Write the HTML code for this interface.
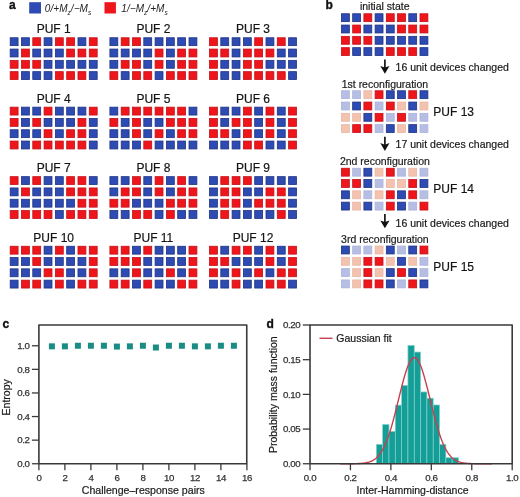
<!DOCTYPE html>
<html><head><meta charset="utf-8"><style>
html,body{margin:0;padding:0;background:#fff;}
svg{display:block;filter:blur(0.3px);}
text{font-family:"Liberation Sans",Arial,sans-serif;fill:#222;}
.puf{font-size:12px;fill:#151515;stroke:#151515;stroke-width:0.2px;}
.sm{font-size:10.5px;fill:#1a1a1a;stroke:#1a1a1a;stroke-width:0.2px;}
.tk{font-size:9.7px;letter-spacing:-0.4px;fill:#333;stroke:#333;stroke-width:0.25px;}
.lab{font-size:12px;font-weight:bold;fill:#111;stroke:#111;stroke-width:0.35px;}
.leg{font-size:10px;font-style:italic;letter-spacing:0.05px;}
.leg .sub{font-size:6.5px;}
</style></head><body>
<svg width="520" height="497" viewBox="0 0 520 497">
<rect width="520" height="497" fill="#fff"/>
<rect x="10.18" y="37.75" width="7.90" height="7.90" fill="#2d4bb2" stroke="#1f3282" stroke-width="0.8"/>
<rect x="21.48" y="37.75" width="7.90" height="7.90" fill="#2d4bb2" stroke="#1f3282" stroke-width="0.8"/>
<rect x="32.78" y="37.75" width="7.90" height="7.90" fill="#ee161b" stroke="#c4101a" stroke-width="0.8"/>
<rect x="44.08" y="37.75" width="7.90" height="7.90" fill="#2d4bb2" stroke="#1f3282" stroke-width="0.8"/>
<rect x="55.38" y="37.75" width="7.90" height="7.90" fill="#ee161b" stroke="#c4101a" stroke-width="0.8"/>
<rect x="66.68" y="37.75" width="7.90" height="7.90" fill="#ee161b" stroke="#c4101a" stroke-width="0.8"/>
<rect x="77.98" y="37.75" width="7.90" height="7.90" fill="#2d4bb2" stroke="#1f3282" stroke-width="0.8"/>
<rect x="89.28" y="37.75" width="7.90" height="7.90" fill="#ee161b" stroke="#c4101a" stroke-width="0.8"/>
<rect x="10.18" y="49.05" width="7.90" height="7.90" fill="#2d4bb2" stroke="#1f3282" stroke-width="0.8"/>
<rect x="21.48" y="49.05" width="7.90" height="7.90" fill="#ee161b" stroke="#c4101a" stroke-width="0.8"/>
<rect x="32.78" y="49.05" width="7.90" height="7.90" fill="#2d4bb2" stroke="#1f3282" stroke-width="0.8"/>
<rect x="44.08" y="49.05" width="7.90" height="7.90" fill="#2d4bb2" stroke="#1f3282" stroke-width="0.8"/>
<rect x="55.38" y="49.05" width="7.90" height="7.90" fill="#2d4bb2" stroke="#1f3282" stroke-width="0.8"/>
<rect x="66.68" y="49.05" width="7.90" height="7.90" fill="#ee161b" stroke="#c4101a" stroke-width="0.8"/>
<rect x="77.98" y="49.05" width="7.90" height="7.90" fill="#ee161b" stroke="#c4101a" stroke-width="0.8"/>
<rect x="89.28" y="49.05" width="7.90" height="7.90" fill="#ee161b" stroke="#c4101a" stroke-width="0.8"/>
<rect x="10.18" y="60.35" width="7.90" height="7.90" fill="#ee161b" stroke="#c4101a" stroke-width="0.8"/>
<rect x="21.48" y="60.35" width="7.90" height="7.90" fill="#ee161b" stroke="#c4101a" stroke-width="0.8"/>
<rect x="32.78" y="60.35" width="7.90" height="7.90" fill="#ee161b" stroke="#c4101a" stroke-width="0.8"/>
<rect x="44.08" y="60.35" width="7.90" height="7.90" fill="#2d4bb2" stroke="#1f3282" stroke-width="0.8"/>
<rect x="55.38" y="60.35" width="7.90" height="7.90" fill="#2d4bb2" stroke="#1f3282" stroke-width="0.8"/>
<rect x="66.68" y="60.35" width="7.90" height="7.90" fill="#2d4bb2" stroke="#1f3282" stroke-width="0.8"/>
<rect x="77.98" y="60.35" width="7.90" height="7.90" fill="#2d4bb2" stroke="#1f3282" stroke-width="0.8"/>
<rect x="89.28" y="60.35" width="7.90" height="7.90" fill="#2d4bb2" stroke="#1f3282" stroke-width="0.8"/>
<rect x="10.18" y="71.65" width="7.90" height="7.90" fill="#ee161b" stroke="#c4101a" stroke-width="0.8"/>
<rect x="21.48" y="71.65" width="7.90" height="7.90" fill="#2d4bb2" stroke="#1f3282" stroke-width="0.8"/>
<rect x="32.78" y="71.65" width="7.90" height="7.90" fill="#2d4bb2" stroke="#1f3282" stroke-width="0.8"/>
<rect x="44.08" y="71.65" width="7.90" height="7.90" fill="#2d4bb2" stroke="#1f3282" stroke-width="0.8"/>
<rect x="55.38" y="71.65" width="7.90" height="7.90" fill="#ee161b" stroke="#c4101a" stroke-width="0.8"/>
<rect x="66.68" y="71.65" width="7.90" height="7.90" fill="#ee161b" stroke="#c4101a" stroke-width="0.8"/>
<rect x="77.98" y="71.65" width="7.90" height="7.90" fill="#ee161b" stroke="#c4101a" stroke-width="0.8"/>
<rect x="89.28" y="71.65" width="7.90" height="7.90" fill="#2d4bb2" stroke="#1f3282" stroke-width="0.8"/>
<text x="53.68" y="33.10" class="puf" text-anchor="middle">PUF 1</text>
<rect x="109.90" y="37.75" width="7.90" height="7.90" fill="#2d4bb2" stroke="#1f3282" stroke-width="0.8"/>
<rect x="121.20" y="37.75" width="7.90" height="7.90" fill="#ee161b" stroke="#c4101a" stroke-width="0.8"/>
<rect x="132.50" y="37.75" width="7.90" height="7.90" fill="#ee161b" stroke="#c4101a" stroke-width="0.8"/>
<rect x="143.80" y="37.75" width="7.90" height="7.90" fill="#2d4bb2" stroke="#1f3282" stroke-width="0.8"/>
<rect x="155.10" y="37.75" width="7.90" height="7.90" fill="#2d4bb2" stroke="#1f3282" stroke-width="0.8"/>
<rect x="166.40" y="37.75" width="7.90" height="7.90" fill="#2d4bb2" stroke="#1f3282" stroke-width="0.8"/>
<rect x="177.70" y="37.75" width="7.90" height="7.90" fill="#2d4bb2" stroke="#1f3282" stroke-width="0.8"/>
<rect x="189.00" y="37.75" width="7.90" height="7.90" fill="#2d4bb2" stroke="#1f3282" stroke-width="0.8"/>
<rect x="109.90" y="49.05" width="7.90" height="7.90" fill="#2d4bb2" stroke="#1f3282" stroke-width="0.8"/>
<rect x="121.20" y="49.05" width="7.90" height="7.90" fill="#2d4bb2" stroke="#1f3282" stroke-width="0.8"/>
<rect x="132.50" y="49.05" width="7.90" height="7.90" fill="#2d4bb2" stroke="#1f3282" stroke-width="0.8"/>
<rect x="143.80" y="49.05" width="7.90" height="7.90" fill="#2d4bb2" stroke="#1f3282" stroke-width="0.8"/>
<rect x="155.10" y="49.05" width="7.90" height="7.90" fill="#ee161b" stroke="#c4101a" stroke-width="0.8"/>
<rect x="166.40" y="49.05" width="7.90" height="7.90" fill="#2d4bb2" stroke="#1f3282" stroke-width="0.8"/>
<rect x="177.70" y="49.05" width="7.90" height="7.90" fill="#ee161b" stroke="#c4101a" stroke-width="0.8"/>
<rect x="189.00" y="49.05" width="7.90" height="7.90" fill="#ee161b" stroke="#c4101a" stroke-width="0.8"/>
<rect x="109.90" y="60.35" width="7.90" height="7.90" fill="#2d4bb2" stroke="#1f3282" stroke-width="0.8"/>
<rect x="121.20" y="60.35" width="7.90" height="7.90" fill="#ee161b" stroke="#c4101a" stroke-width="0.8"/>
<rect x="132.50" y="60.35" width="7.90" height="7.90" fill="#ee161b" stroke="#c4101a" stroke-width="0.8"/>
<rect x="143.80" y="60.35" width="7.90" height="7.90" fill="#2d4bb2" stroke="#1f3282" stroke-width="0.8"/>
<rect x="155.10" y="60.35" width="7.90" height="7.90" fill="#ee161b" stroke="#c4101a" stroke-width="0.8"/>
<rect x="166.40" y="60.35" width="7.90" height="7.90" fill="#2d4bb2" stroke="#1f3282" stroke-width="0.8"/>
<rect x="177.70" y="60.35" width="7.90" height="7.90" fill="#ee161b" stroke="#c4101a" stroke-width="0.8"/>
<rect x="189.00" y="60.35" width="7.90" height="7.90" fill="#ee161b" stroke="#c4101a" stroke-width="0.8"/>
<rect x="109.90" y="71.65" width="7.90" height="7.90" fill="#ee161b" stroke="#c4101a" stroke-width="0.8"/>
<rect x="121.20" y="71.65" width="7.90" height="7.90" fill="#2d4bb2" stroke="#1f3282" stroke-width="0.8"/>
<rect x="132.50" y="71.65" width="7.90" height="7.90" fill="#ee161b" stroke="#c4101a" stroke-width="0.8"/>
<rect x="143.80" y="71.65" width="7.90" height="7.90" fill="#ee161b" stroke="#c4101a" stroke-width="0.8"/>
<rect x="155.10" y="71.65" width="7.90" height="7.90" fill="#2d4bb2" stroke="#1f3282" stroke-width="0.8"/>
<rect x="166.40" y="71.65" width="7.90" height="7.90" fill="#ee161b" stroke="#c4101a" stroke-width="0.8"/>
<rect x="177.70" y="71.65" width="7.90" height="7.90" fill="#ee161b" stroke="#c4101a" stroke-width="0.8"/>
<rect x="189.00" y="71.65" width="7.90" height="7.90" fill="#ee161b" stroke="#c4101a" stroke-width="0.8"/>
<text x="153.40" y="33.10" class="puf" text-anchor="middle">PUF 2</text>
<rect x="209.50" y="37.75" width="7.90" height="7.90" fill="#ee161b" stroke="#c4101a" stroke-width="0.8"/>
<rect x="220.80" y="37.75" width="7.90" height="7.90" fill="#2d4bb2" stroke="#1f3282" stroke-width="0.8"/>
<rect x="232.10" y="37.75" width="7.90" height="7.90" fill="#2d4bb2" stroke="#1f3282" stroke-width="0.8"/>
<rect x="243.40" y="37.75" width="7.90" height="7.90" fill="#2d4bb2" stroke="#1f3282" stroke-width="0.8"/>
<rect x="254.70" y="37.75" width="7.90" height="7.90" fill="#ee161b" stroke="#c4101a" stroke-width="0.8"/>
<rect x="266.00" y="37.75" width="7.90" height="7.90" fill="#2d4bb2" stroke="#1f3282" stroke-width="0.8"/>
<rect x="277.30" y="37.75" width="7.90" height="7.90" fill="#ee161b" stroke="#c4101a" stroke-width="0.8"/>
<rect x="288.60" y="37.75" width="7.90" height="7.90" fill="#2d4bb2" stroke="#1f3282" stroke-width="0.8"/>
<rect x="209.50" y="49.05" width="7.90" height="7.90" fill="#ee161b" stroke="#c4101a" stroke-width="0.8"/>
<rect x="220.80" y="49.05" width="7.90" height="7.90" fill="#ee161b" stroke="#c4101a" stroke-width="0.8"/>
<rect x="232.10" y="49.05" width="7.90" height="7.90" fill="#2d4bb2" stroke="#1f3282" stroke-width="0.8"/>
<rect x="243.40" y="49.05" width="7.90" height="7.90" fill="#ee161b" stroke="#c4101a" stroke-width="0.8"/>
<rect x="254.70" y="49.05" width="7.90" height="7.90" fill="#ee161b" stroke="#c4101a" stroke-width="0.8"/>
<rect x="266.00" y="49.05" width="7.90" height="7.90" fill="#ee161b" stroke="#c4101a" stroke-width="0.8"/>
<rect x="277.30" y="49.05" width="7.90" height="7.90" fill="#2d4bb2" stroke="#1f3282" stroke-width="0.8"/>
<rect x="288.60" y="49.05" width="7.90" height="7.90" fill="#2d4bb2" stroke="#1f3282" stroke-width="0.8"/>
<rect x="209.50" y="60.35" width="7.90" height="7.90" fill="#ee161b" stroke="#c4101a" stroke-width="0.8"/>
<rect x="220.80" y="60.35" width="7.90" height="7.90" fill="#2d4bb2" stroke="#1f3282" stroke-width="0.8"/>
<rect x="232.10" y="60.35" width="7.90" height="7.90" fill="#2d4bb2" stroke="#1f3282" stroke-width="0.8"/>
<rect x="243.40" y="60.35" width="7.90" height="7.90" fill="#ee161b" stroke="#c4101a" stroke-width="0.8"/>
<rect x="254.70" y="60.35" width="7.90" height="7.90" fill="#ee161b" stroke="#c4101a" stroke-width="0.8"/>
<rect x="266.00" y="60.35" width="7.90" height="7.90" fill="#2d4bb2" stroke="#1f3282" stroke-width="0.8"/>
<rect x="277.30" y="60.35" width="7.90" height="7.90" fill="#2d4bb2" stroke="#1f3282" stroke-width="0.8"/>
<rect x="288.60" y="60.35" width="7.90" height="7.90" fill="#2d4bb2" stroke="#1f3282" stroke-width="0.8"/>
<rect x="209.50" y="71.65" width="7.90" height="7.90" fill="#ee161b" stroke="#c4101a" stroke-width="0.8"/>
<rect x="220.80" y="71.65" width="7.90" height="7.90" fill="#2d4bb2" stroke="#1f3282" stroke-width="0.8"/>
<rect x="232.10" y="71.65" width="7.90" height="7.90" fill="#2d4bb2" stroke="#1f3282" stroke-width="0.8"/>
<rect x="243.40" y="71.65" width="7.90" height="7.90" fill="#ee161b" stroke="#c4101a" stroke-width="0.8"/>
<rect x="254.70" y="71.65" width="7.90" height="7.90" fill="#ee161b" stroke="#c4101a" stroke-width="0.8"/>
<rect x="266.00" y="71.65" width="7.90" height="7.90" fill="#ee161b" stroke="#c4101a" stroke-width="0.8"/>
<rect x="277.30" y="71.65" width="7.90" height="7.90" fill="#ee161b" stroke="#c4101a" stroke-width="0.8"/>
<rect x="288.60" y="71.65" width="7.90" height="7.90" fill="#2d4bb2" stroke="#1f3282" stroke-width="0.8"/>
<text x="253.00" y="33.10" class="puf" text-anchor="middle">PUF 3</text>
<rect x="10.18" y="107.15" width="7.90" height="7.90" fill="#ee161b" stroke="#c4101a" stroke-width="0.8"/>
<rect x="21.48" y="107.15" width="7.90" height="7.90" fill="#2d4bb2" stroke="#1f3282" stroke-width="0.8"/>
<rect x="32.78" y="107.15" width="7.90" height="7.90" fill="#2d4bb2" stroke="#1f3282" stroke-width="0.8"/>
<rect x="44.08" y="107.15" width="7.90" height="7.90" fill="#ee161b" stroke="#c4101a" stroke-width="0.8"/>
<rect x="55.38" y="107.15" width="7.90" height="7.90" fill="#2d4bb2" stroke="#1f3282" stroke-width="0.8"/>
<rect x="66.68" y="107.15" width="7.90" height="7.90" fill="#2d4bb2" stroke="#1f3282" stroke-width="0.8"/>
<rect x="77.98" y="107.15" width="7.90" height="7.90" fill="#2d4bb2" stroke="#1f3282" stroke-width="0.8"/>
<rect x="89.28" y="107.15" width="7.90" height="7.90" fill="#ee161b" stroke="#c4101a" stroke-width="0.8"/>
<rect x="10.18" y="118.45" width="7.90" height="7.90" fill="#ee161b" stroke="#c4101a" stroke-width="0.8"/>
<rect x="21.48" y="118.45" width="7.90" height="7.90" fill="#2d4bb2" stroke="#1f3282" stroke-width="0.8"/>
<rect x="32.78" y="118.45" width="7.90" height="7.90" fill="#ee161b" stroke="#c4101a" stroke-width="0.8"/>
<rect x="44.08" y="118.45" width="7.90" height="7.90" fill="#2d4bb2" stroke="#1f3282" stroke-width="0.8"/>
<rect x="55.38" y="118.45" width="7.90" height="7.90" fill="#2d4bb2" stroke="#1f3282" stroke-width="0.8"/>
<rect x="66.68" y="118.45" width="7.90" height="7.90" fill="#2d4bb2" stroke="#1f3282" stroke-width="0.8"/>
<rect x="77.98" y="118.45" width="7.90" height="7.90" fill="#ee161b" stroke="#c4101a" stroke-width="0.8"/>
<rect x="89.28" y="118.45" width="7.90" height="7.90" fill="#2d4bb2" stroke="#1f3282" stroke-width="0.8"/>
<rect x="10.18" y="129.75" width="7.90" height="7.90" fill="#2d4bb2" stroke="#1f3282" stroke-width="0.8"/>
<rect x="21.48" y="129.75" width="7.90" height="7.90" fill="#2d4bb2" stroke="#1f3282" stroke-width="0.8"/>
<rect x="32.78" y="129.75" width="7.90" height="7.90" fill="#2d4bb2" stroke="#1f3282" stroke-width="0.8"/>
<rect x="44.08" y="129.75" width="7.90" height="7.90" fill="#ee161b" stroke="#c4101a" stroke-width="0.8"/>
<rect x="55.38" y="129.75" width="7.90" height="7.90" fill="#2d4bb2" stroke="#1f3282" stroke-width="0.8"/>
<rect x="66.68" y="129.75" width="7.90" height="7.90" fill="#ee161b" stroke="#c4101a" stroke-width="0.8"/>
<rect x="77.98" y="129.75" width="7.90" height="7.90" fill="#ee161b" stroke="#c4101a" stroke-width="0.8"/>
<rect x="89.28" y="129.75" width="7.90" height="7.90" fill="#2d4bb2" stroke="#1f3282" stroke-width="0.8"/>
<rect x="10.18" y="141.05" width="7.90" height="7.90" fill="#ee161b" stroke="#c4101a" stroke-width="0.8"/>
<rect x="21.48" y="141.05" width="7.90" height="7.90" fill="#2d4bb2" stroke="#1f3282" stroke-width="0.8"/>
<rect x="32.78" y="141.05" width="7.90" height="7.90" fill="#ee161b" stroke="#c4101a" stroke-width="0.8"/>
<rect x="44.08" y="141.05" width="7.90" height="7.90" fill="#ee161b" stroke="#c4101a" stroke-width="0.8"/>
<rect x="55.38" y="141.05" width="7.90" height="7.90" fill="#ee161b" stroke="#c4101a" stroke-width="0.8"/>
<rect x="66.68" y="141.05" width="7.90" height="7.90" fill="#ee161b" stroke="#c4101a" stroke-width="0.8"/>
<rect x="77.98" y="141.05" width="7.90" height="7.90" fill="#ee161b" stroke="#c4101a" stroke-width="0.8"/>
<rect x="89.28" y="141.05" width="7.90" height="7.90" fill="#2d4bb2" stroke="#1f3282" stroke-width="0.8"/>
<text x="53.68" y="102.50" class="puf" text-anchor="middle">PUF 4</text>
<rect x="109.90" y="107.15" width="7.90" height="7.90" fill="#2d4bb2" stroke="#1f3282" stroke-width="0.8"/>
<rect x="121.20" y="107.15" width="7.90" height="7.90" fill="#ee161b" stroke="#c4101a" stroke-width="0.8"/>
<rect x="132.50" y="107.15" width="7.90" height="7.90" fill="#ee161b" stroke="#c4101a" stroke-width="0.8"/>
<rect x="143.80" y="107.15" width="7.90" height="7.90" fill="#ee161b" stroke="#c4101a" stroke-width="0.8"/>
<rect x="155.10" y="107.15" width="7.90" height="7.90" fill="#ee161b" stroke="#c4101a" stroke-width="0.8"/>
<rect x="166.40" y="107.15" width="7.90" height="7.90" fill="#ee161b" stroke="#c4101a" stroke-width="0.8"/>
<rect x="177.70" y="107.15" width="7.90" height="7.90" fill="#ee161b" stroke="#c4101a" stroke-width="0.8"/>
<rect x="189.00" y="107.15" width="7.90" height="7.90" fill="#2d4bb2" stroke="#1f3282" stroke-width="0.8"/>
<rect x="109.90" y="118.45" width="7.90" height="7.90" fill="#ee161b" stroke="#c4101a" stroke-width="0.8"/>
<rect x="121.20" y="118.45" width="7.90" height="7.90" fill="#2d4bb2" stroke="#1f3282" stroke-width="0.8"/>
<rect x="132.50" y="118.45" width="7.90" height="7.90" fill="#ee161b" stroke="#c4101a" stroke-width="0.8"/>
<rect x="143.80" y="118.45" width="7.90" height="7.90" fill="#2d4bb2" stroke="#1f3282" stroke-width="0.8"/>
<rect x="155.10" y="118.45" width="7.90" height="7.90" fill="#2d4bb2" stroke="#1f3282" stroke-width="0.8"/>
<rect x="166.40" y="118.45" width="7.90" height="7.90" fill="#ee161b" stroke="#c4101a" stroke-width="0.8"/>
<rect x="177.70" y="118.45" width="7.90" height="7.90" fill="#ee161b" stroke="#c4101a" stroke-width="0.8"/>
<rect x="189.00" y="118.45" width="7.90" height="7.90" fill="#ee161b" stroke="#c4101a" stroke-width="0.8"/>
<rect x="109.90" y="129.75" width="7.90" height="7.90" fill="#2d4bb2" stroke="#1f3282" stroke-width="0.8"/>
<rect x="121.20" y="129.75" width="7.90" height="7.90" fill="#2d4bb2" stroke="#1f3282" stroke-width="0.8"/>
<rect x="132.50" y="129.75" width="7.90" height="7.90" fill="#ee161b" stroke="#c4101a" stroke-width="0.8"/>
<rect x="143.80" y="129.75" width="7.90" height="7.90" fill="#2d4bb2" stroke="#1f3282" stroke-width="0.8"/>
<rect x="155.10" y="129.75" width="7.90" height="7.90" fill="#ee161b" stroke="#c4101a" stroke-width="0.8"/>
<rect x="166.40" y="129.75" width="7.90" height="7.90" fill="#2d4bb2" stroke="#1f3282" stroke-width="0.8"/>
<rect x="177.70" y="129.75" width="7.90" height="7.90" fill="#ee161b" stroke="#c4101a" stroke-width="0.8"/>
<rect x="189.00" y="129.75" width="7.90" height="7.90" fill="#ee161b" stroke="#c4101a" stroke-width="0.8"/>
<rect x="109.90" y="141.05" width="7.90" height="7.90" fill="#2d4bb2" stroke="#1f3282" stroke-width="0.8"/>
<rect x="121.20" y="141.05" width="7.90" height="7.90" fill="#2d4bb2" stroke="#1f3282" stroke-width="0.8"/>
<rect x="132.50" y="141.05" width="7.90" height="7.90" fill="#2d4bb2" stroke="#1f3282" stroke-width="0.8"/>
<rect x="143.80" y="141.05" width="7.90" height="7.90" fill="#ee161b" stroke="#c4101a" stroke-width="0.8"/>
<rect x="155.10" y="141.05" width="7.90" height="7.90" fill="#2d4bb2" stroke="#1f3282" stroke-width="0.8"/>
<rect x="166.40" y="141.05" width="7.90" height="7.90" fill="#2d4bb2" stroke="#1f3282" stroke-width="0.8"/>
<rect x="177.70" y="141.05" width="7.90" height="7.90" fill="#2d4bb2" stroke="#1f3282" stroke-width="0.8"/>
<rect x="189.00" y="141.05" width="7.90" height="7.90" fill="#2d4bb2" stroke="#1f3282" stroke-width="0.8"/>
<text x="153.40" y="102.50" class="puf" text-anchor="middle">PUF 5</text>
<rect x="209.50" y="107.15" width="7.90" height="7.90" fill="#ee161b" stroke="#c4101a" stroke-width="0.8"/>
<rect x="220.80" y="107.15" width="7.90" height="7.90" fill="#2d4bb2" stroke="#1f3282" stroke-width="0.8"/>
<rect x="232.10" y="107.15" width="7.90" height="7.90" fill="#2d4bb2" stroke="#1f3282" stroke-width="0.8"/>
<rect x="243.40" y="107.15" width="7.90" height="7.90" fill="#ee161b" stroke="#c4101a" stroke-width="0.8"/>
<rect x="254.70" y="107.15" width="7.90" height="7.90" fill="#2d4bb2" stroke="#1f3282" stroke-width="0.8"/>
<rect x="266.00" y="107.15" width="7.90" height="7.90" fill="#ee161b" stroke="#c4101a" stroke-width="0.8"/>
<rect x="277.30" y="107.15" width="7.90" height="7.90" fill="#2d4bb2" stroke="#1f3282" stroke-width="0.8"/>
<rect x="288.60" y="107.15" width="7.90" height="7.90" fill="#ee161b" stroke="#c4101a" stroke-width="0.8"/>
<rect x="209.50" y="118.45" width="7.90" height="7.90" fill="#ee161b" stroke="#c4101a" stroke-width="0.8"/>
<rect x="220.80" y="118.45" width="7.90" height="7.90" fill="#2d4bb2" stroke="#1f3282" stroke-width="0.8"/>
<rect x="232.10" y="118.45" width="7.90" height="7.90" fill="#ee161b" stroke="#c4101a" stroke-width="0.8"/>
<rect x="243.40" y="118.45" width="7.90" height="7.90" fill="#ee161b" stroke="#c4101a" stroke-width="0.8"/>
<rect x="254.70" y="118.45" width="7.90" height="7.90" fill="#2d4bb2" stroke="#1f3282" stroke-width="0.8"/>
<rect x="266.00" y="118.45" width="7.90" height="7.90" fill="#ee161b" stroke="#c4101a" stroke-width="0.8"/>
<rect x="277.30" y="118.45" width="7.90" height="7.90" fill="#2d4bb2" stroke="#1f3282" stroke-width="0.8"/>
<rect x="288.60" y="118.45" width="7.90" height="7.90" fill="#ee161b" stroke="#c4101a" stroke-width="0.8"/>
<rect x="209.50" y="129.75" width="7.90" height="7.90" fill="#ee161b" stroke="#c4101a" stroke-width="0.8"/>
<rect x="220.80" y="129.75" width="7.90" height="7.90" fill="#ee161b" stroke="#c4101a" stroke-width="0.8"/>
<rect x="232.10" y="129.75" width="7.90" height="7.90" fill="#2d4bb2" stroke="#1f3282" stroke-width="0.8"/>
<rect x="243.40" y="129.75" width="7.90" height="7.90" fill="#ee161b" stroke="#c4101a" stroke-width="0.8"/>
<rect x="254.70" y="129.75" width="7.90" height="7.90" fill="#2d4bb2" stroke="#1f3282" stroke-width="0.8"/>
<rect x="266.00" y="129.75" width="7.90" height="7.90" fill="#ee161b" stroke="#c4101a" stroke-width="0.8"/>
<rect x="277.30" y="129.75" width="7.90" height="7.90" fill="#2d4bb2" stroke="#1f3282" stroke-width="0.8"/>
<rect x="288.60" y="129.75" width="7.90" height="7.90" fill="#ee161b" stroke="#c4101a" stroke-width="0.8"/>
<rect x="209.50" y="141.05" width="7.90" height="7.90" fill="#2d4bb2" stroke="#1f3282" stroke-width="0.8"/>
<rect x="220.80" y="141.05" width="7.90" height="7.90" fill="#2d4bb2" stroke="#1f3282" stroke-width="0.8"/>
<rect x="232.10" y="141.05" width="7.90" height="7.90" fill="#2d4bb2" stroke="#1f3282" stroke-width="0.8"/>
<rect x="243.40" y="141.05" width="7.90" height="7.90" fill="#ee161b" stroke="#c4101a" stroke-width="0.8"/>
<rect x="254.70" y="141.05" width="7.90" height="7.90" fill="#ee161b" stroke="#c4101a" stroke-width="0.8"/>
<rect x="266.00" y="141.05" width="7.90" height="7.90" fill="#2d4bb2" stroke="#1f3282" stroke-width="0.8"/>
<rect x="277.30" y="141.05" width="7.90" height="7.90" fill="#2d4bb2" stroke="#1f3282" stroke-width="0.8"/>
<rect x="288.60" y="141.05" width="7.90" height="7.90" fill="#ee161b" stroke="#c4101a" stroke-width="0.8"/>
<text x="253.00" y="102.50" class="puf" text-anchor="middle">PUF 6</text>
<rect x="10.18" y="176.65" width="7.90" height="7.90" fill="#ee161b" stroke="#c4101a" stroke-width="0.8"/>
<rect x="21.48" y="176.65" width="7.90" height="7.90" fill="#2d4bb2" stroke="#1f3282" stroke-width="0.8"/>
<rect x="32.78" y="176.65" width="7.90" height="7.90" fill="#ee161b" stroke="#c4101a" stroke-width="0.8"/>
<rect x="44.08" y="176.65" width="7.90" height="7.90" fill="#2d4bb2" stroke="#1f3282" stroke-width="0.8"/>
<rect x="55.38" y="176.65" width="7.90" height="7.90" fill="#2d4bb2" stroke="#1f3282" stroke-width="0.8"/>
<rect x="66.68" y="176.65" width="7.90" height="7.90" fill="#ee161b" stroke="#c4101a" stroke-width="0.8"/>
<rect x="77.98" y="176.65" width="7.90" height="7.90" fill="#ee161b" stroke="#c4101a" stroke-width="0.8"/>
<rect x="89.28" y="176.65" width="7.90" height="7.90" fill="#2d4bb2" stroke="#1f3282" stroke-width="0.8"/>
<rect x="10.18" y="187.95" width="7.90" height="7.90" fill="#2d4bb2" stroke="#1f3282" stroke-width="0.8"/>
<rect x="21.48" y="187.95" width="7.90" height="7.90" fill="#ee161b" stroke="#c4101a" stroke-width="0.8"/>
<rect x="32.78" y="187.95" width="7.90" height="7.90" fill="#2d4bb2" stroke="#1f3282" stroke-width="0.8"/>
<rect x="44.08" y="187.95" width="7.90" height="7.90" fill="#2d4bb2" stroke="#1f3282" stroke-width="0.8"/>
<rect x="55.38" y="187.95" width="7.90" height="7.90" fill="#2d4bb2" stroke="#1f3282" stroke-width="0.8"/>
<rect x="66.68" y="187.95" width="7.90" height="7.90" fill="#ee161b" stroke="#c4101a" stroke-width="0.8"/>
<rect x="77.98" y="187.95" width="7.90" height="7.90" fill="#ee161b" stroke="#c4101a" stroke-width="0.8"/>
<rect x="89.28" y="187.95" width="7.90" height="7.90" fill="#ee161b" stroke="#c4101a" stroke-width="0.8"/>
<rect x="10.18" y="199.25" width="7.90" height="7.90" fill="#2d4bb2" stroke="#1f3282" stroke-width="0.8"/>
<rect x="21.48" y="199.25" width="7.90" height="7.90" fill="#2d4bb2" stroke="#1f3282" stroke-width="0.8"/>
<rect x="32.78" y="199.25" width="7.90" height="7.90" fill="#2d4bb2" stroke="#1f3282" stroke-width="0.8"/>
<rect x="44.08" y="199.25" width="7.90" height="7.90" fill="#2d4bb2" stroke="#1f3282" stroke-width="0.8"/>
<rect x="55.38" y="199.25" width="7.90" height="7.90" fill="#2d4bb2" stroke="#1f3282" stroke-width="0.8"/>
<rect x="66.68" y="199.25" width="7.90" height="7.90" fill="#2d4bb2" stroke="#1f3282" stroke-width="0.8"/>
<rect x="77.98" y="199.25" width="7.90" height="7.90" fill="#ee161b" stroke="#c4101a" stroke-width="0.8"/>
<rect x="89.28" y="199.25" width="7.90" height="7.90" fill="#ee161b" stroke="#c4101a" stroke-width="0.8"/>
<rect x="10.18" y="210.55" width="7.90" height="7.90" fill="#ee161b" stroke="#c4101a" stroke-width="0.8"/>
<rect x="21.48" y="210.55" width="7.90" height="7.90" fill="#ee161b" stroke="#c4101a" stroke-width="0.8"/>
<rect x="32.78" y="210.55" width="7.90" height="7.90" fill="#ee161b" stroke="#c4101a" stroke-width="0.8"/>
<rect x="44.08" y="210.55" width="7.90" height="7.90" fill="#ee161b" stroke="#c4101a" stroke-width="0.8"/>
<rect x="55.38" y="210.55" width="7.90" height="7.90" fill="#2d4bb2" stroke="#1f3282" stroke-width="0.8"/>
<rect x="66.68" y="210.55" width="7.90" height="7.90" fill="#ee161b" stroke="#c4101a" stroke-width="0.8"/>
<rect x="77.98" y="210.55" width="7.90" height="7.90" fill="#ee161b" stroke="#c4101a" stroke-width="0.8"/>
<rect x="89.28" y="210.55" width="7.90" height="7.90" fill="#ee161b" stroke="#c4101a" stroke-width="0.8"/>
<text x="53.68" y="172.00" class="puf" text-anchor="middle">PUF 7</text>
<rect x="109.90" y="176.65" width="7.90" height="7.90" fill="#2d4bb2" stroke="#1f3282" stroke-width="0.8"/>
<rect x="121.20" y="176.65" width="7.90" height="7.90" fill="#2d4bb2" stroke="#1f3282" stroke-width="0.8"/>
<rect x="132.50" y="176.65" width="7.90" height="7.90" fill="#ee161b" stroke="#c4101a" stroke-width="0.8"/>
<rect x="143.80" y="176.65" width="7.90" height="7.90" fill="#2d4bb2" stroke="#1f3282" stroke-width="0.8"/>
<rect x="155.10" y="176.65" width="7.90" height="7.90" fill="#ee161b" stroke="#c4101a" stroke-width="0.8"/>
<rect x="166.40" y="176.65" width="7.90" height="7.90" fill="#2d4bb2" stroke="#1f3282" stroke-width="0.8"/>
<rect x="177.70" y="176.65" width="7.90" height="7.90" fill="#ee161b" stroke="#c4101a" stroke-width="0.8"/>
<rect x="189.00" y="176.65" width="7.90" height="7.90" fill="#2d4bb2" stroke="#1f3282" stroke-width="0.8"/>
<rect x="109.90" y="187.95" width="7.90" height="7.90" fill="#2d4bb2" stroke="#1f3282" stroke-width="0.8"/>
<rect x="121.20" y="187.95" width="7.90" height="7.90" fill="#ee161b" stroke="#c4101a" stroke-width="0.8"/>
<rect x="132.50" y="187.95" width="7.90" height="7.90" fill="#ee161b" stroke="#c4101a" stroke-width="0.8"/>
<rect x="143.80" y="187.95" width="7.90" height="7.90" fill="#2d4bb2" stroke="#1f3282" stroke-width="0.8"/>
<rect x="155.10" y="187.95" width="7.90" height="7.90" fill="#ee161b" stroke="#c4101a" stroke-width="0.8"/>
<rect x="166.40" y="187.95" width="7.90" height="7.90" fill="#2d4bb2" stroke="#1f3282" stroke-width="0.8"/>
<rect x="177.70" y="187.95" width="7.90" height="7.90" fill="#ee161b" stroke="#c4101a" stroke-width="0.8"/>
<rect x="189.00" y="187.95" width="7.90" height="7.90" fill="#ee161b" stroke="#c4101a" stroke-width="0.8"/>
<rect x="109.90" y="199.25" width="7.90" height="7.90" fill="#ee161b" stroke="#c4101a" stroke-width="0.8"/>
<rect x="121.20" y="199.25" width="7.90" height="7.90" fill="#ee161b" stroke="#c4101a" stroke-width="0.8"/>
<rect x="132.50" y="199.25" width="7.90" height="7.90" fill="#2d4bb2" stroke="#1f3282" stroke-width="0.8"/>
<rect x="143.80" y="199.25" width="7.90" height="7.90" fill="#2d4bb2" stroke="#1f3282" stroke-width="0.8"/>
<rect x="155.10" y="199.25" width="7.90" height="7.90" fill="#2d4bb2" stroke="#1f3282" stroke-width="0.8"/>
<rect x="166.40" y="199.25" width="7.90" height="7.90" fill="#ee161b" stroke="#c4101a" stroke-width="0.8"/>
<rect x="177.70" y="199.25" width="7.90" height="7.90" fill="#ee161b" stroke="#c4101a" stroke-width="0.8"/>
<rect x="189.00" y="199.25" width="7.90" height="7.90" fill="#ee161b" stroke="#c4101a" stroke-width="0.8"/>
<rect x="109.90" y="210.55" width="7.90" height="7.90" fill="#2d4bb2" stroke="#1f3282" stroke-width="0.8"/>
<rect x="121.20" y="210.55" width="7.90" height="7.90" fill="#2d4bb2" stroke="#1f3282" stroke-width="0.8"/>
<rect x="132.50" y="210.55" width="7.90" height="7.90" fill="#ee161b" stroke="#c4101a" stroke-width="0.8"/>
<rect x="143.80" y="210.55" width="7.90" height="7.90" fill="#ee161b" stroke="#c4101a" stroke-width="0.8"/>
<rect x="155.10" y="210.55" width="7.90" height="7.90" fill="#2d4bb2" stroke="#1f3282" stroke-width="0.8"/>
<rect x="166.40" y="210.55" width="7.90" height="7.90" fill="#ee161b" stroke="#c4101a" stroke-width="0.8"/>
<rect x="177.70" y="210.55" width="7.90" height="7.90" fill="#2d4bb2" stroke="#1f3282" stroke-width="0.8"/>
<rect x="189.00" y="210.55" width="7.90" height="7.90" fill="#2d4bb2" stroke="#1f3282" stroke-width="0.8"/>
<text x="153.40" y="172.00" class="puf" text-anchor="middle">PUF 8</text>
<rect x="209.50" y="176.65" width="7.90" height="7.90" fill="#2d4bb2" stroke="#1f3282" stroke-width="0.8"/>
<rect x="220.80" y="176.65" width="7.90" height="7.90" fill="#ee161b" stroke="#c4101a" stroke-width="0.8"/>
<rect x="232.10" y="176.65" width="7.90" height="7.90" fill="#ee161b" stroke="#c4101a" stroke-width="0.8"/>
<rect x="243.40" y="176.65" width="7.90" height="7.90" fill="#ee161b" stroke="#c4101a" stroke-width="0.8"/>
<rect x="254.70" y="176.65" width="7.90" height="7.90" fill="#2d4bb2" stroke="#1f3282" stroke-width="0.8"/>
<rect x="266.00" y="176.65" width="7.90" height="7.90" fill="#2d4bb2" stroke="#1f3282" stroke-width="0.8"/>
<rect x="277.30" y="176.65" width="7.90" height="7.90" fill="#2d4bb2" stroke="#1f3282" stroke-width="0.8"/>
<rect x="288.60" y="176.65" width="7.90" height="7.90" fill="#2d4bb2" stroke="#1f3282" stroke-width="0.8"/>
<rect x="209.50" y="187.95" width="7.90" height="7.90" fill="#2d4bb2" stroke="#1f3282" stroke-width="0.8"/>
<rect x="220.80" y="187.95" width="7.90" height="7.90" fill="#ee161b" stroke="#c4101a" stroke-width="0.8"/>
<rect x="232.10" y="187.95" width="7.90" height="7.90" fill="#ee161b" stroke="#c4101a" stroke-width="0.8"/>
<rect x="243.40" y="187.95" width="7.90" height="7.90" fill="#2d4bb2" stroke="#1f3282" stroke-width="0.8"/>
<rect x="254.70" y="187.95" width="7.90" height="7.90" fill="#2d4bb2" stroke="#1f3282" stroke-width="0.8"/>
<rect x="266.00" y="187.95" width="7.90" height="7.90" fill="#ee161b" stroke="#c4101a" stroke-width="0.8"/>
<rect x="277.30" y="187.95" width="7.90" height="7.90" fill="#ee161b" stroke="#c4101a" stroke-width="0.8"/>
<rect x="288.60" y="187.95" width="7.90" height="7.90" fill="#2d4bb2" stroke="#1f3282" stroke-width="0.8"/>
<rect x="209.50" y="199.25" width="7.90" height="7.90" fill="#2d4bb2" stroke="#1f3282" stroke-width="0.8"/>
<rect x="220.80" y="199.25" width="7.90" height="7.90" fill="#ee161b" stroke="#c4101a" stroke-width="0.8"/>
<rect x="232.10" y="199.25" width="7.90" height="7.90" fill="#ee161b" stroke="#c4101a" stroke-width="0.8"/>
<rect x="243.40" y="199.25" width="7.90" height="7.90" fill="#2d4bb2" stroke="#1f3282" stroke-width="0.8"/>
<rect x="254.70" y="199.25" width="7.90" height="7.90" fill="#ee161b" stroke="#c4101a" stroke-width="0.8"/>
<rect x="266.00" y="199.25" width="7.90" height="7.90" fill="#ee161b" stroke="#c4101a" stroke-width="0.8"/>
<rect x="277.30" y="199.25" width="7.90" height="7.90" fill="#ee161b" stroke="#c4101a" stroke-width="0.8"/>
<rect x="288.60" y="199.25" width="7.90" height="7.90" fill="#2d4bb2" stroke="#1f3282" stroke-width="0.8"/>
<rect x="209.50" y="210.55" width="7.90" height="7.90" fill="#2d4bb2" stroke="#1f3282" stroke-width="0.8"/>
<rect x="220.80" y="210.55" width="7.90" height="7.90" fill="#ee161b" stroke="#c4101a" stroke-width="0.8"/>
<rect x="232.10" y="210.55" width="7.90" height="7.90" fill="#2d4bb2" stroke="#1f3282" stroke-width="0.8"/>
<rect x="243.40" y="210.55" width="7.90" height="7.90" fill="#2d4bb2" stroke="#1f3282" stroke-width="0.8"/>
<rect x="254.70" y="210.55" width="7.90" height="7.90" fill="#2d4bb2" stroke="#1f3282" stroke-width="0.8"/>
<rect x="266.00" y="210.55" width="7.90" height="7.90" fill="#2d4bb2" stroke="#1f3282" stroke-width="0.8"/>
<rect x="277.30" y="210.55" width="7.90" height="7.90" fill="#ee161b" stroke="#c4101a" stroke-width="0.8"/>
<rect x="288.60" y="210.55" width="7.90" height="7.90" fill="#2d4bb2" stroke="#1f3282" stroke-width="0.8"/>
<text x="253.00" y="172.00" class="puf" text-anchor="middle">PUF 9</text>
<rect x="10.18" y="246.25" width="7.90" height="7.90" fill="#ee161b" stroke="#c4101a" stroke-width="0.8"/>
<rect x="21.48" y="246.25" width="7.90" height="7.90" fill="#ee161b" stroke="#c4101a" stroke-width="0.8"/>
<rect x="32.78" y="246.25" width="7.90" height="7.90" fill="#ee161b" stroke="#c4101a" stroke-width="0.8"/>
<rect x="44.08" y="246.25" width="7.90" height="7.90" fill="#2d4bb2" stroke="#1f3282" stroke-width="0.8"/>
<rect x="55.38" y="246.25" width="7.90" height="7.90" fill="#ee161b" stroke="#c4101a" stroke-width="0.8"/>
<rect x="66.68" y="246.25" width="7.90" height="7.90" fill="#2d4bb2" stroke="#1f3282" stroke-width="0.8"/>
<rect x="77.98" y="246.25" width="7.90" height="7.90" fill="#ee161b" stroke="#c4101a" stroke-width="0.8"/>
<rect x="89.28" y="246.25" width="7.90" height="7.90" fill="#ee161b" stroke="#c4101a" stroke-width="0.8"/>
<rect x="10.18" y="257.55" width="7.90" height="7.90" fill="#2d4bb2" stroke="#1f3282" stroke-width="0.8"/>
<rect x="21.48" y="257.55" width="7.90" height="7.90" fill="#2d4bb2" stroke="#1f3282" stroke-width="0.8"/>
<rect x="32.78" y="257.55" width="7.90" height="7.90" fill="#ee161b" stroke="#c4101a" stroke-width="0.8"/>
<rect x="44.08" y="257.55" width="7.90" height="7.90" fill="#2d4bb2" stroke="#1f3282" stroke-width="0.8"/>
<rect x="55.38" y="257.55" width="7.90" height="7.90" fill="#2d4bb2" stroke="#1f3282" stroke-width="0.8"/>
<rect x="66.68" y="257.55" width="7.90" height="7.90" fill="#2d4bb2" stroke="#1f3282" stroke-width="0.8"/>
<rect x="77.98" y="257.55" width="7.90" height="7.90" fill="#2d4bb2" stroke="#1f3282" stroke-width="0.8"/>
<rect x="89.28" y="257.55" width="7.90" height="7.90" fill="#ee161b" stroke="#c4101a" stroke-width="0.8"/>
<rect x="10.18" y="268.85" width="7.90" height="7.90" fill="#2d4bb2" stroke="#1f3282" stroke-width="0.8"/>
<rect x="21.48" y="268.85" width="7.90" height="7.90" fill="#2d4bb2" stroke="#1f3282" stroke-width="0.8"/>
<rect x="32.78" y="268.85" width="7.90" height="7.90" fill="#2d4bb2" stroke="#1f3282" stroke-width="0.8"/>
<rect x="44.08" y="268.85" width="7.90" height="7.90" fill="#ee161b" stroke="#c4101a" stroke-width="0.8"/>
<rect x="55.38" y="268.85" width="7.90" height="7.90" fill="#ee161b" stroke="#c4101a" stroke-width="0.8"/>
<rect x="66.68" y="268.85" width="7.90" height="7.90" fill="#2d4bb2" stroke="#1f3282" stroke-width="0.8"/>
<rect x="77.98" y="268.85" width="7.90" height="7.90" fill="#2d4bb2" stroke="#1f3282" stroke-width="0.8"/>
<rect x="89.28" y="268.85" width="7.90" height="7.90" fill="#ee161b" stroke="#c4101a" stroke-width="0.8"/>
<rect x="10.18" y="280.15" width="7.90" height="7.90" fill="#2d4bb2" stroke="#1f3282" stroke-width="0.8"/>
<rect x="21.48" y="280.15" width="7.90" height="7.90" fill="#ee161b" stroke="#c4101a" stroke-width="0.8"/>
<rect x="32.78" y="280.15" width="7.90" height="7.90" fill="#ee161b" stroke="#c4101a" stroke-width="0.8"/>
<rect x="44.08" y="280.15" width="7.90" height="7.90" fill="#2d4bb2" stroke="#1f3282" stroke-width="0.8"/>
<rect x="55.38" y="280.15" width="7.90" height="7.90" fill="#ee161b" stroke="#c4101a" stroke-width="0.8"/>
<rect x="66.68" y="280.15" width="7.90" height="7.90" fill="#2d4bb2" stroke="#1f3282" stroke-width="0.8"/>
<rect x="77.98" y="280.15" width="7.90" height="7.90" fill="#ee161b" stroke="#c4101a" stroke-width="0.8"/>
<rect x="89.28" y="280.15" width="7.90" height="7.90" fill="#ee161b" stroke="#c4101a" stroke-width="0.8"/>
<text x="53.68" y="241.60" class="puf" text-anchor="middle">PUF 10</text>
<rect x="109.90" y="246.25" width="7.90" height="7.90" fill="#ee161b" stroke="#c4101a" stroke-width="0.8"/>
<rect x="121.20" y="246.25" width="7.90" height="7.90" fill="#ee161b" stroke="#c4101a" stroke-width="0.8"/>
<rect x="132.50" y="246.25" width="7.90" height="7.90" fill="#2d4bb2" stroke="#1f3282" stroke-width="0.8"/>
<rect x="143.80" y="246.25" width="7.90" height="7.90" fill="#ee161b" stroke="#c4101a" stroke-width="0.8"/>
<rect x="155.10" y="246.25" width="7.90" height="7.90" fill="#2d4bb2" stroke="#1f3282" stroke-width="0.8"/>
<rect x="166.40" y="246.25" width="7.90" height="7.90" fill="#2d4bb2" stroke="#1f3282" stroke-width="0.8"/>
<rect x="177.70" y="246.25" width="7.90" height="7.90" fill="#2d4bb2" stroke="#1f3282" stroke-width="0.8"/>
<rect x="189.00" y="246.25" width="7.90" height="7.90" fill="#ee161b" stroke="#c4101a" stroke-width="0.8"/>
<rect x="109.90" y="257.55" width="7.90" height="7.90" fill="#ee161b" stroke="#c4101a" stroke-width="0.8"/>
<rect x="121.20" y="257.55" width="7.90" height="7.90" fill="#ee161b" stroke="#c4101a" stroke-width="0.8"/>
<rect x="132.50" y="257.55" width="7.90" height="7.90" fill="#ee161b" stroke="#c4101a" stroke-width="0.8"/>
<rect x="143.80" y="257.55" width="7.90" height="7.90" fill="#2d4bb2" stroke="#1f3282" stroke-width="0.8"/>
<rect x="155.10" y="257.55" width="7.90" height="7.90" fill="#2d4bb2" stroke="#1f3282" stroke-width="0.8"/>
<rect x="166.40" y="257.55" width="7.90" height="7.90" fill="#2d4bb2" stroke="#1f3282" stroke-width="0.8"/>
<rect x="177.70" y="257.55" width="7.90" height="7.90" fill="#2d4bb2" stroke="#1f3282" stroke-width="0.8"/>
<rect x="189.00" y="257.55" width="7.90" height="7.90" fill="#ee161b" stroke="#c4101a" stroke-width="0.8"/>
<rect x="109.90" y="268.85" width="7.90" height="7.90" fill="#2d4bb2" stroke="#1f3282" stroke-width="0.8"/>
<rect x="121.20" y="268.85" width="7.90" height="7.90" fill="#2d4bb2" stroke="#1f3282" stroke-width="0.8"/>
<rect x="132.50" y="268.85" width="7.90" height="7.90" fill="#ee161b" stroke="#c4101a" stroke-width="0.8"/>
<rect x="143.80" y="268.85" width="7.90" height="7.90" fill="#2d4bb2" stroke="#1f3282" stroke-width="0.8"/>
<rect x="155.10" y="268.85" width="7.90" height="7.90" fill="#2d4bb2" stroke="#1f3282" stroke-width="0.8"/>
<rect x="166.40" y="268.85" width="7.90" height="7.90" fill="#ee161b" stroke="#c4101a" stroke-width="0.8"/>
<rect x="177.70" y="268.85" width="7.90" height="7.90" fill="#2d4bb2" stroke="#1f3282" stroke-width="0.8"/>
<rect x="189.00" y="268.85" width="7.90" height="7.90" fill="#ee161b" stroke="#c4101a" stroke-width="0.8"/>
<rect x="109.90" y="280.15" width="7.90" height="7.90" fill="#ee161b" stroke="#c4101a" stroke-width="0.8"/>
<rect x="121.20" y="280.15" width="7.90" height="7.90" fill="#ee161b" stroke="#c4101a" stroke-width="0.8"/>
<rect x="132.50" y="280.15" width="7.90" height="7.90" fill="#2d4bb2" stroke="#1f3282" stroke-width="0.8"/>
<rect x="143.80" y="280.15" width="7.90" height="7.90" fill="#ee161b" stroke="#c4101a" stroke-width="0.8"/>
<rect x="155.10" y="280.15" width="7.90" height="7.90" fill="#2d4bb2" stroke="#1f3282" stroke-width="0.8"/>
<rect x="166.40" y="280.15" width="7.90" height="7.90" fill="#2d4bb2" stroke="#1f3282" stroke-width="0.8"/>
<rect x="177.70" y="280.15" width="7.90" height="7.90" fill="#ee161b" stroke="#c4101a" stroke-width="0.8"/>
<rect x="189.00" y="280.15" width="7.90" height="7.90" fill="#ee161b" stroke="#c4101a" stroke-width="0.8"/>
<text x="153.40" y="241.60" class="puf" text-anchor="middle">PUF 11</text>
<rect x="209.50" y="246.25" width="7.90" height="7.90" fill="#ee161b" stroke="#c4101a" stroke-width="0.8"/>
<rect x="220.80" y="246.25" width="7.90" height="7.90" fill="#2d4bb2" stroke="#1f3282" stroke-width="0.8"/>
<rect x="232.10" y="246.25" width="7.90" height="7.90" fill="#ee161b" stroke="#c4101a" stroke-width="0.8"/>
<rect x="243.40" y="246.25" width="7.90" height="7.90" fill="#ee161b" stroke="#c4101a" stroke-width="0.8"/>
<rect x="254.70" y="246.25" width="7.90" height="7.90" fill="#2d4bb2" stroke="#1f3282" stroke-width="0.8"/>
<rect x="266.00" y="246.25" width="7.90" height="7.90" fill="#ee161b" stroke="#c4101a" stroke-width="0.8"/>
<rect x="277.30" y="246.25" width="7.90" height="7.90" fill="#2d4bb2" stroke="#1f3282" stroke-width="0.8"/>
<rect x="288.60" y="246.25" width="7.90" height="7.90" fill="#ee161b" stroke="#c4101a" stroke-width="0.8"/>
<rect x="209.50" y="257.55" width="7.90" height="7.90" fill="#ee161b" stroke="#c4101a" stroke-width="0.8"/>
<rect x="220.80" y="257.55" width="7.90" height="7.90" fill="#ee161b" stroke="#c4101a" stroke-width="0.8"/>
<rect x="232.10" y="257.55" width="7.90" height="7.90" fill="#2d4bb2" stroke="#1f3282" stroke-width="0.8"/>
<rect x="243.40" y="257.55" width="7.90" height="7.90" fill="#2d4bb2" stroke="#1f3282" stroke-width="0.8"/>
<rect x="254.70" y="257.55" width="7.90" height="7.90" fill="#2d4bb2" stroke="#1f3282" stroke-width="0.8"/>
<rect x="266.00" y="257.55" width="7.90" height="7.90" fill="#ee161b" stroke="#c4101a" stroke-width="0.8"/>
<rect x="277.30" y="257.55" width="7.90" height="7.90" fill="#2d4bb2" stroke="#1f3282" stroke-width="0.8"/>
<rect x="288.60" y="257.55" width="7.90" height="7.90" fill="#ee161b" stroke="#c4101a" stroke-width="0.8"/>
<rect x="209.50" y="268.85" width="7.90" height="7.90" fill="#ee161b" stroke="#c4101a" stroke-width="0.8"/>
<rect x="220.80" y="268.85" width="7.90" height="7.90" fill="#2d4bb2" stroke="#1f3282" stroke-width="0.8"/>
<rect x="232.10" y="268.85" width="7.90" height="7.90" fill="#ee161b" stroke="#c4101a" stroke-width="0.8"/>
<rect x="243.40" y="268.85" width="7.90" height="7.90" fill="#2d4bb2" stroke="#1f3282" stroke-width="0.8"/>
<rect x="254.70" y="268.85" width="7.90" height="7.90" fill="#ee161b" stroke="#c4101a" stroke-width="0.8"/>
<rect x="266.00" y="268.85" width="7.90" height="7.90" fill="#2d4bb2" stroke="#1f3282" stroke-width="0.8"/>
<rect x="277.30" y="268.85" width="7.90" height="7.90" fill="#ee161b" stroke="#c4101a" stroke-width="0.8"/>
<rect x="288.60" y="268.85" width="7.90" height="7.90" fill="#ee161b" stroke="#c4101a" stroke-width="0.8"/>
<rect x="209.50" y="280.15" width="7.90" height="7.90" fill="#2d4bb2" stroke="#1f3282" stroke-width="0.8"/>
<rect x="220.80" y="280.15" width="7.90" height="7.90" fill="#2d4bb2" stroke="#1f3282" stroke-width="0.8"/>
<rect x="232.10" y="280.15" width="7.90" height="7.90" fill="#ee161b" stroke="#c4101a" stroke-width="0.8"/>
<rect x="243.40" y="280.15" width="7.90" height="7.90" fill="#2d4bb2" stroke="#1f3282" stroke-width="0.8"/>
<rect x="254.70" y="280.15" width="7.90" height="7.90" fill="#2d4bb2" stroke="#1f3282" stroke-width="0.8"/>
<rect x="266.00" y="280.15" width="7.90" height="7.90" fill="#ee161b" stroke="#c4101a" stroke-width="0.8"/>
<rect x="277.30" y="280.15" width="7.90" height="7.90" fill="#ee161b" stroke="#c4101a" stroke-width="0.8"/>
<rect x="288.60" y="280.15" width="7.90" height="7.90" fill="#2d4bb2" stroke="#1f3282" stroke-width="0.8"/>
<text x="253.00" y="241.60" class="puf" text-anchor="middle">PUF 12</text>
<text x="9" y="8.6" class="lab">a</text>
<rect x="29.2" y="2.2" width="11.8" height="11.3" fill="#2d4bb2"/>
<rect x="104.5" y="2.2" width="11.4" height="11.3" fill="#ee161b"/>
<text x="44.8" y="12.3" class="leg" fill="#4660be">0/+<tspan>M</tspan><tspan class="sub" dy="2.6">z</tspan><tspan dy="-2.6">/−M</tspan><tspan class="sub" dy="2.6">s</tspan></text>
<text x="121.3" y="12.3" class="leg" fill="#ea2a38">1/−<tspan>M</tspan><tspan class="sub" dy="2.6">z</tspan><tspan dy="-2.6">/+M</tspan><tspan class="sub" dy="2.6">s</tspan></text>
<text x="325.5" y="9.0" class="lab">b</text>
<rect x="341.45" y="13.75" width="7.90" height="7.90" fill="#2d4bb2" stroke="#1f3282" stroke-width="0.8"/>
<rect x="352.67" y="13.75" width="7.90" height="7.90" fill="#2d4bb2" stroke="#1f3282" stroke-width="0.8"/>
<rect x="363.89" y="13.75" width="7.90" height="7.90" fill="#ee161b" stroke="#c4101a" stroke-width="0.8"/>
<rect x="375.11" y="13.75" width="7.90" height="7.90" fill="#2d4bb2" stroke="#1f3282" stroke-width="0.8"/>
<rect x="386.33" y="13.75" width="7.90" height="7.90" fill="#ee161b" stroke="#c4101a" stroke-width="0.8"/>
<rect x="397.55" y="13.75" width="7.90" height="7.90" fill="#ee161b" stroke="#c4101a" stroke-width="0.8"/>
<rect x="408.77" y="13.75" width="7.90" height="7.90" fill="#2d4bb2" stroke="#1f3282" stroke-width="0.8"/>
<rect x="419.99" y="13.75" width="7.90" height="7.90" fill="#ee161b" stroke="#c4101a" stroke-width="0.8"/>
<rect x="341.45" y="25.05" width="7.90" height="7.90" fill="#2d4bb2" stroke="#1f3282" stroke-width="0.8"/>
<rect x="352.67" y="25.05" width="7.90" height="7.90" fill="#ee161b" stroke="#c4101a" stroke-width="0.8"/>
<rect x="363.89" y="25.05" width="7.90" height="7.90" fill="#2d4bb2" stroke="#1f3282" stroke-width="0.8"/>
<rect x="375.11" y="25.05" width="7.90" height="7.90" fill="#2d4bb2" stroke="#1f3282" stroke-width="0.8"/>
<rect x="386.33" y="25.05" width="7.90" height="7.90" fill="#2d4bb2" stroke="#1f3282" stroke-width="0.8"/>
<rect x="397.55" y="25.05" width="7.90" height="7.90" fill="#ee161b" stroke="#c4101a" stroke-width="0.8"/>
<rect x="408.77" y="25.05" width="7.90" height="7.90" fill="#ee161b" stroke="#c4101a" stroke-width="0.8"/>
<rect x="419.99" y="25.05" width="7.90" height="7.90" fill="#ee161b" stroke="#c4101a" stroke-width="0.8"/>
<rect x="341.45" y="36.35" width="7.90" height="7.90" fill="#ee161b" stroke="#c4101a" stroke-width="0.8"/>
<rect x="352.67" y="36.35" width="7.90" height="7.90" fill="#ee161b" stroke="#c4101a" stroke-width="0.8"/>
<rect x="363.89" y="36.35" width="7.90" height="7.90" fill="#ee161b" stroke="#c4101a" stroke-width="0.8"/>
<rect x="375.11" y="36.35" width="7.90" height="7.90" fill="#2d4bb2" stroke="#1f3282" stroke-width="0.8"/>
<rect x="386.33" y="36.35" width="7.90" height="7.90" fill="#2d4bb2" stroke="#1f3282" stroke-width="0.8"/>
<rect x="397.55" y="36.35" width="7.90" height="7.90" fill="#2d4bb2" stroke="#1f3282" stroke-width="0.8"/>
<rect x="408.77" y="36.35" width="7.90" height="7.90" fill="#2d4bb2" stroke="#1f3282" stroke-width="0.8"/>
<rect x="419.99" y="36.35" width="7.90" height="7.90" fill="#2d4bb2" stroke="#1f3282" stroke-width="0.8"/>
<rect x="341.45" y="47.65" width="7.90" height="7.90" fill="#ee161b" stroke="#c4101a" stroke-width="0.8"/>
<rect x="352.67" y="47.65" width="7.90" height="7.90" fill="#2d4bb2" stroke="#1f3282" stroke-width="0.8"/>
<rect x="363.89" y="47.65" width="7.90" height="7.90" fill="#2d4bb2" stroke="#1f3282" stroke-width="0.8"/>
<rect x="375.11" y="47.65" width="7.90" height="7.90" fill="#2d4bb2" stroke="#1f3282" stroke-width="0.8"/>
<rect x="386.33" y="47.65" width="7.90" height="7.90" fill="#ee161b" stroke="#c4101a" stroke-width="0.8"/>
<rect x="397.55" y="47.65" width="7.90" height="7.90" fill="#ee161b" stroke="#c4101a" stroke-width="0.8"/>
<rect x="408.77" y="47.65" width="7.90" height="7.90" fill="#ee161b" stroke="#c4101a" stroke-width="0.8"/>
<rect x="419.99" y="47.65" width="7.90" height="7.90" fill="#2d4bb2" stroke="#1f3282" stroke-width="0.8"/>
<rect x="341.45" y="90.75" width="7.90" height="7.90" fill="#b7bee4" stroke="#aab2dc" stroke-width="0.8"/>
<rect x="352.67" y="90.75" width="7.90" height="7.90" fill="#b7bee4" stroke="#aab2dc" stroke-width="0.8"/>
<rect x="363.89" y="90.75" width="7.90" height="7.90" fill="#f4c3b0" stroke="#eab5a2" stroke-width="0.8"/>
<rect x="375.11" y="90.75" width="7.90" height="7.90" fill="#ee161b" stroke="#c4101a" stroke-width="0.8"/>
<rect x="386.33" y="90.75" width="7.90" height="7.90" fill="#2d4bb2" stroke="#1f3282" stroke-width="0.8"/>
<rect x="397.55" y="90.75" width="7.90" height="7.90" fill="#2d4bb2" stroke="#1f3282" stroke-width="0.8"/>
<rect x="408.77" y="90.75" width="7.90" height="7.90" fill="#ee161b" stroke="#c4101a" stroke-width="0.8"/>
<rect x="419.99" y="90.75" width="7.90" height="7.90" fill="#2d4bb2" stroke="#1f3282" stroke-width="0.8"/>
<rect x="341.45" y="102.05" width="7.90" height="7.90" fill="#b7bee4" stroke="#aab2dc" stroke-width="0.8"/>
<rect x="352.67" y="102.05" width="7.90" height="7.90" fill="#2d4bb2" stroke="#1f3282" stroke-width="0.8"/>
<rect x="363.89" y="102.05" width="7.90" height="7.90" fill="#ee161b" stroke="#c4101a" stroke-width="0.8"/>
<rect x="375.11" y="102.05" width="7.90" height="7.90" fill="#b7bee4" stroke="#aab2dc" stroke-width="0.8"/>
<rect x="386.33" y="102.05" width="7.90" height="7.90" fill="#ee161b" stroke="#c4101a" stroke-width="0.8"/>
<rect x="397.55" y="102.05" width="7.90" height="7.90" fill="#f4c3b0" stroke="#eab5a2" stroke-width="0.8"/>
<rect x="408.77" y="102.05" width="7.90" height="7.90" fill="#2d4bb2" stroke="#1f3282" stroke-width="0.8"/>
<rect x="419.99" y="102.05" width="7.90" height="7.90" fill="#f4c3b0" stroke="#eab5a2" stroke-width="0.8"/>
<rect x="341.45" y="113.35" width="7.90" height="7.90" fill="#f4c3b0" stroke="#eab5a2" stroke-width="0.8"/>
<rect x="352.67" y="113.35" width="7.90" height="7.90" fill="#f4c3b0" stroke="#eab5a2" stroke-width="0.8"/>
<rect x="363.89" y="113.35" width="7.90" height="7.90" fill="#2d4bb2" stroke="#1f3282" stroke-width="0.8"/>
<rect x="375.11" y="113.35" width="7.90" height="7.90" fill="#ee161b" stroke="#c4101a" stroke-width="0.8"/>
<rect x="386.33" y="113.35" width="7.90" height="7.90" fill="#b7bee4" stroke="#aab2dc" stroke-width="0.8"/>
<rect x="397.55" y="113.35" width="7.90" height="7.90" fill="#ee161b" stroke="#c4101a" stroke-width="0.8"/>
<rect x="408.77" y="113.35" width="7.90" height="7.90" fill="#b7bee4" stroke="#aab2dc" stroke-width="0.8"/>
<rect x="419.99" y="113.35" width="7.90" height="7.90" fill="#b7bee4" stroke="#aab2dc" stroke-width="0.8"/>
<rect x="341.45" y="124.65" width="7.90" height="7.90" fill="#f4c3b0" stroke="#eab5a2" stroke-width="0.8"/>
<rect x="352.67" y="124.65" width="7.90" height="7.90" fill="#ee161b" stroke="#c4101a" stroke-width="0.8"/>
<rect x="363.89" y="124.65" width="7.90" height="7.90" fill="#ee161b" stroke="#c4101a" stroke-width="0.8"/>
<rect x="375.11" y="124.65" width="7.90" height="7.90" fill="#b7bee4" stroke="#aab2dc" stroke-width="0.8"/>
<rect x="386.33" y="124.65" width="7.90" height="7.90" fill="#2d4bb2" stroke="#1f3282" stroke-width="0.8"/>
<rect x="397.55" y="124.65" width="7.90" height="7.90" fill="#f4c3b0" stroke="#eab5a2" stroke-width="0.8"/>
<rect x="408.77" y="124.65" width="7.90" height="7.90" fill="#2d4bb2" stroke="#1f3282" stroke-width="0.8"/>
<rect x="419.99" y="124.65" width="7.90" height="7.90" fill="#b7bee4" stroke="#aab2dc" stroke-width="0.8"/>
<rect x="341.45" y="168.25" width="7.90" height="7.90" fill="#ee161b" stroke="#c4101a" stroke-width="0.8"/>
<rect x="352.67" y="168.25" width="7.90" height="7.90" fill="#b7bee4" stroke="#aab2dc" stroke-width="0.8"/>
<rect x="363.89" y="168.25" width="7.90" height="7.90" fill="#2d4bb2" stroke="#1f3282" stroke-width="0.8"/>
<rect x="375.11" y="168.25" width="7.90" height="7.90" fill="#f4c3b0" stroke="#eab5a2" stroke-width="0.8"/>
<rect x="386.33" y="168.25" width="7.90" height="7.90" fill="#ee161b" stroke="#c4101a" stroke-width="0.8"/>
<rect x="397.55" y="168.25" width="7.90" height="7.90" fill="#b7bee4" stroke="#aab2dc" stroke-width="0.8"/>
<rect x="408.77" y="168.25" width="7.90" height="7.90" fill="#f4c3b0" stroke="#eab5a2" stroke-width="0.8"/>
<rect x="419.99" y="168.25" width="7.90" height="7.90" fill="#b7bee4" stroke="#aab2dc" stroke-width="0.8"/>
<rect x="341.45" y="179.55" width="7.90" height="7.90" fill="#ee161b" stroke="#c4101a" stroke-width="0.8"/>
<rect x="352.67" y="179.55" width="7.90" height="7.90" fill="#ee161b" stroke="#c4101a" stroke-width="0.8"/>
<rect x="363.89" y="179.55" width="7.90" height="7.90" fill="#2d4bb2" stroke="#1f3282" stroke-width="0.8"/>
<rect x="375.11" y="179.55" width="7.90" height="7.90" fill="#b7bee4" stroke="#aab2dc" stroke-width="0.8"/>
<rect x="386.33" y="179.55" width="7.90" height="7.90" fill="#f4c3b0" stroke="#eab5a2" stroke-width="0.8"/>
<rect x="397.55" y="179.55" width="7.90" height="7.90" fill="#f4c3b0" stroke="#eab5a2" stroke-width="0.8"/>
<rect x="408.77" y="179.55" width="7.90" height="7.90" fill="#ee161b" stroke="#c4101a" stroke-width="0.8"/>
<rect x="419.99" y="179.55" width="7.90" height="7.90" fill="#2d4bb2" stroke="#1f3282" stroke-width="0.8"/>
<rect x="341.45" y="190.85" width="7.90" height="7.90" fill="#2d4bb2" stroke="#1f3282" stroke-width="0.8"/>
<rect x="352.67" y="190.85" width="7.90" height="7.90" fill="#f4c3b0" stroke="#eab5a2" stroke-width="0.8"/>
<rect x="363.89" y="190.85" width="7.90" height="7.90" fill="#b7bee4" stroke="#aab2dc" stroke-width="0.8"/>
<rect x="375.11" y="190.85" width="7.90" height="7.90" fill="#f4c3b0" stroke="#eab5a2" stroke-width="0.8"/>
<rect x="386.33" y="190.85" width="7.90" height="7.90" fill="#ee161b" stroke="#c4101a" stroke-width="0.8"/>
<rect x="397.55" y="190.85" width="7.90" height="7.90" fill="#2d4bb2" stroke="#1f3282" stroke-width="0.8"/>
<rect x="408.77" y="190.85" width="7.90" height="7.90" fill="#ee161b" stroke="#c4101a" stroke-width="0.8"/>
<rect x="419.99" y="190.85" width="7.90" height="7.90" fill="#b7bee4" stroke="#aab2dc" stroke-width="0.8"/>
<rect x="341.45" y="202.15" width="7.90" height="7.90" fill="#2d4bb2" stroke="#1f3282" stroke-width="0.8"/>
<rect x="352.67" y="202.15" width="7.90" height="7.90" fill="#f4c3b0" stroke="#eab5a2" stroke-width="0.8"/>
<rect x="363.89" y="202.15" width="7.90" height="7.90" fill="#2d4bb2" stroke="#1f3282" stroke-width="0.8"/>
<rect x="375.11" y="202.15" width="7.90" height="7.90" fill="#b7bee4" stroke="#aab2dc" stroke-width="0.8"/>
<rect x="386.33" y="202.15" width="7.90" height="7.90" fill="#ee161b" stroke="#c4101a" stroke-width="0.8"/>
<rect x="397.55" y="202.15" width="7.90" height="7.90" fill="#2d4bb2" stroke="#1f3282" stroke-width="0.8"/>
<rect x="408.77" y="202.15" width="7.90" height="7.90" fill="#b7bee4" stroke="#aab2dc" stroke-width="0.8"/>
<rect x="419.99" y="202.15" width="7.90" height="7.90" fill="#ee161b" stroke="#c4101a" stroke-width="0.8"/>
<rect x="341.45" y="246.05" width="7.90" height="7.90" fill="#2d4bb2" stroke="#1f3282" stroke-width="0.8"/>
<rect x="352.67" y="246.05" width="7.90" height="7.90" fill="#b7bee4" stroke="#aab2dc" stroke-width="0.8"/>
<rect x="363.89" y="246.05" width="7.90" height="7.90" fill="#b7bee4" stroke="#aab2dc" stroke-width="0.8"/>
<rect x="375.11" y="246.05" width="7.90" height="7.90" fill="#f4c3b0" stroke="#eab5a2" stroke-width="0.8"/>
<rect x="386.33" y="246.05" width="7.90" height="7.90" fill="#2d4bb2" stroke="#1f3282" stroke-width="0.8"/>
<rect x="397.55" y="246.05" width="7.90" height="7.90" fill="#b7bee4" stroke="#aab2dc" stroke-width="0.8"/>
<rect x="408.77" y="246.05" width="7.90" height="7.90" fill="#2d4bb2" stroke="#1f3282" stroke-width="0.8"/>
<rect x="419.99" y="246.05" width="7.90" height="7.90" fill="#ee161b" stroke="#c4101a" stroke-width="0.8"/>
<rect x="341.45" y="257.35" width="7.90" height="7.90" fill="#f4c3b0" stroke="#eab5a2" stroke-width="0.8"/>
<rect x="352.67" y="257.35" width="7.90" height="7.90" fill="#f4c3b0" stroke="#eab5a2" stroke-width="0.8"/>
<rect x="363.89" y="257.35" width="7.90" height="7.90" fill="#ee161b" stroke="#c4101a" stroke-width="0.8"/>
<rect x="375.11" y="257.35" width="7.90" height="7.90" fill="#ee161b" stroke="#c4101a" stroke-width="0.8"/>
<rect x="386.33" y="257.35" width="7.90" height="7.90" fill="#f4c3b0" stroke="#eab5a2" stroke-width="0.8"/>
<rect x="397.55" y="257.35" width="7.90" height="7.90" fill="#2d4bb2" stroke="#1f3282" stroke-width="0.8"/>
<rect x="408.77" y="257.35" width="7.90" height="7.90" fill="#f4c3b0" stroke="#eab5a2" stroke-width="0.8"/>
<rect x="419.99" y="257.35" width="7.90" height="7.90" fill="#b7bee4" stroke="#aab2dc" stroke-width="0.8"/>
<rect x="341.45" y="268.65" width="7.90" height="7.90" fill="#b7bee4" stroke="#aab2dc" stroke-width="0.8"/>
<rect x="352.67" y="268.65" width="7.90" height="7.90" fill="#f4c3b0" stroke="#eab5a2" stroke-width="0.8"/>
<rect x="363.89" y="268.65" width="7.90" height="7.90" fill="#ee161b" stroke="#c4101a" stroke-width="0.8"/>
<rect x="375.11" y="268.65" width="7.90" height="7.90" fill="#f4c3b0" stroke="#eab5a2" stroke-width="0.8"/>
<rect x="386.33" y="268.65" width="7.90" height="7.90" fill="#2d4bb2" stroke="#1f3282" stroke-width="0.8"/>
<rect x="397.55" y="268.65" width="7.90" height="7.90" fill="#ee161b" stroke="#c4101a" stroke-width="0.8"/>
<rect x="408.77" y="268.65" width="7.90" height="7.90" fill="#2d4bb2" stroke="#1f3282" stroke-width="0.8"/>
<rect x="419.99" y="268.65" width="7.90" height="7.90" fill="#b7bee4" stroke="#aab2dc" stroke-width="0.8"/>
<rect x="341.45" y="279.95" width="7.90" height="7.90" fill="#b7bee4" stroke="#aab2dc" stroke-width="0.8"/>
<rect x="352.67" y="279.95" width="7.90" height="7.90" fill="#f4c3b0" stroke="#eab5a2" stroke-width="0.8"/>
<rect x="363.89" y="279.95" width="7.90" height="7.90" fill="#ee161b" stroke="#c4101a" stroke-width="0.8"/>
<rect x="375.11" y="279.95" width="7.90" height="7.90" fill="#ee161b" stroke="#c4101a" stroke-width="0.8"/>
<rect x="386.33" y="279.95" width="7.90" height="7.90" fill="#2d4bb2" stroke="#1f3282" stroke-width="0.8"/>
<rect x="397.55" y="279.95" width="7.90" height="7.90" fill="#b7bee4" stroke="#aab2dc" stroke-width="0.8"/>
<rect x="408.77" y="279.95" width="7.90" height="7.90" fill="#ee161b" stroke="#c4101a" stroke-width="0.8"/>
<rect x="419.99" y="279.95" width="7.90" height="7.90" fill="#2d4bb2" stroke="#1f3282" stroke-width="0.8"/>
<text x="384.7" y="9.6" class="sm" text-anchor="middle">initial state</text>
<line x1="384.9" y1="59.60" x2="384.9" y2="68.80" stroke="#151515" stroke-width="1.7"/>
<path d="M384.9 73.80 L380.30 65.90 L384.9 67.60 L389.50 65.90 Z" fill="#111"/>
<text x="395.6" y="70.9" class="sm">16 unit devices changed</text>
<text x="384.9" y="87.6" class="sm" text-anchor="middle">1st reconfiguration</text>
<text x="433.3" y="115.60" class="puf">PUF 13</text>
<line x1="384.9" y1="136.70" x2="384.9" y2="145.90" stroke="#151515" stroke-width="1.7"/>
<path d="M384.9 150.90 L380.30 143.00 L384.9 144.70 L389.50 143.00 Z" fill="#111"/>
<text x="395.6" y="148.4" class="sm">17 unit devices changed</text>
<text x="384.9" y="165.1" class="sm" text-anchor="middle">2nd reconfiguration</text>
<text x="433.3" y="193.10" class="puf">PUF 14</text>
<line x1="384.9" y1="214.10" x2="384.9" y2="223.30" stroke="#151515" stroke-width="1.7"/>
<path d="M384.9 228.30 L380.30 220.40 L384.9 222.10 L389.50 220.40 Z" fill="#111"/>
<text x="395.6" y="226.7" class="sm">16 unit devices changed</text>
<text x="384.9" y="242.5" class="sm" text-anchor="middle">3rd reconfiguration</text>
<text x="433.3" y="270.90" class="puf">PUF 15</text>
<text x="2.6" y="327.7" class="lab">c</text>
<path d="M38.9 463.75 V325 H246.75 V463.75 Z" fill="none" stroke="#3a3a3a" stroke-width="1.6" stroke-linejoin="round"/>
<line x1="31.9" y1="463.75" x2="38.9" y2="463.75" stroke="#3a3a3a" stroke-width="1.3"/>
<text x="29.60" y="466.95" class="tk" text-anchor="end">0.0</text>
<line x1="31.9" y1="440.15" x2="38.9" y2="440.15" stroke="#3a3a3a" stroke-width="1.3"/>
<text x="29.60" y="443.35" class="tk" text-anchor="end">0.2</text>
<line x1="31.9" y1="416.55" x2="38.9" y2="416.55" stroke="#3a3a3a" stroke-width="1.3"/>
<text x="29.60" y="419.75" class="tk" text-anchor="end">0.4</text>
<line x1="31.9" y1="392.95" x2="38.9" y2="392.95" stroke="#3a3a3a" stroke-width="1.3"/>
<text x="29.60" y="396.15" class="tk" text-anchor="end">0.6</text>
<line x1="31.9" y1="369.35" x2="38.9" y2="369.35" stroke="#3a3a3a" stroke-width="1.3"/>
<text x="29.60" y="372.55" class="tk" text-anchor="end">0.8</text>
<line x1="31.9" y1="345.75" x2="38.9" y2="345.75" stroke="#3a3a3a" stroke-width="1.3"/>
<text x="29.60" y="348.95" class="tk" text-anchor="end">1.0</text>
<line x1="38.90" y1="463.75" x2="38.90" y2="470.25" stroke="#3a3a3a" stroke-width="1.3"/>
<text x="38.90" y="481.25" class="tk" text-anchor="middle">0</text>
<line x1="64.90" y1="463.75" x2="64.90" y2="470.25" stroke="#3a3a3a" stroke-width="1.3"/>
<text x="64.90" y="481.25" class="tk" text-anchor="middle">2</text>
<line x1="90.90" y1="463.75" x2="90.90" y2="470.25" stroke="#3a3a3a" stroke-width="1.3"/>
<text x="90.90" y="481.25" class="tk" text-anchor="middle">4</text>
<line x1="116.90" y1="463.75" x2="116.90" y2="470.25" stroke="#3a3a3a" stroke-width="1.3"/>
<text x="116.90" y="481.25" class="tk" text-anchor="middle">6</text>
<line x1="142.90" y1="463.75" x2="142.90" y2="470.25" stroke="#3a3a3a" stroke-width="1.3"/>
<text x="142.90" y="481.25" class="tk" text-anchor="middle">8</text>
<line x1="168.90" y1="463.75" x2="168.90" y2="470.25" stroke="#3a3a3a" stroke-width="1.3"/>
<text x="168.90" y="481.25" class="tk" text-anchor="middle">10</text>
<line x1="194.90" y1="463.75" x2="194.90" y2="470.25" stroke="#3a3a3a" stroke-width="1.3"/>
<text x="194.90" y="481.25" class="tk" text-anchor="middle">12</text>
<line x1="220.90" y1="463.75" x2="220.90" y2="470.25" stroke="#3a3a3a" stroke-width="1.3"/>
<text x="220.90" y="481.25" class="tk" text-anchor="middle">14</text>
<line x1="246.90" y1="463.75" x2="246.90" y2="470.25" stroke="#3a3a3a" stroke-width="1.3"/>
<text x="246.90" y="481.25" class="tk" text-anchor="middle">16</text>
<rect x="48.90" y="343.34" width="6" height="6" fill="#1a8c84"/>
<rect x="61.90" y="343.34" width="6" height="6" fill="#1a8c84"/>
<rect x="74.90" y="342.75" width="6" height="6" fill="#1a8c84"/>
<rect x="87.90" y="342.75" width="6" height="6" fill="#1a8c84"/>
<rect x="100.90" y="342.75" width="6" height="6" fill="#1a8c84"/>
<rect x="113.90" y="343.58" width="6" height="6" fill="#1a8c84"/>
<rect x="126.90" y="343.34" width="6" height="6" fill="#1a8c84"/>
<rect x="139.90" y="342.75" width="6" height="6" fill="#1a8c84"/>
<rect x="152.90" y="344.52" width="6" height="6" fill="#1a8c84"/>
<rect x="165.90" y="342.75" width="6" height="6" fill="#1a8c84"/>
<rect x="178.90" y="342.75" width="6" height="6" fill="#1a8c84"/>
<rect x="191.90" y="343.34" width="6" height="6" fill="#1a8c84"/>
<rect x="204.90" y="343.34" width="6" height="6" fill="#1a8c84"/>
<rect x="217.90" y="342.75" width="6" height="6" fill="#1a8c84"/>
<rect x="230.90" y="342.75" width="6" height="6" fill="#1a8c84"/>
<text x="143.3" y="493.8" class="sm" text-anchor="middle" style="font-size:10.6px">Challenge–response pairs</text>
<text transform="translate(10.1,397.3) rotate(-90)" class="sm" text-anchor="middle">Entropy</text>
<text x="266.4" y="327.8" class="lab">d</text>
<rect x="376.35" y="444.32" width="6.32" height="19.43" fill="#159d97" stroke="#7fd3cc" stroke-width="0.7"/>
<rect x="382.67" y="424.48" width="6.32" height="39.27" fill="#159d97" stroke="#7fd3cc" stroke-width="0.7"/>
<rect x="388.98" y="431.35" width="6.32" height="32.40" fill="#159d97" stroke="#7fd3cc" stroke-width="0.7"/>
<rect x="395.30" y="405.13" width="6.32" height="58.62" fill="#159d97" stroke="#7fd3cc" stroke-width="0.7"/>
<rect x="401.62" y="385.36" width="6.32" height="78.39" fill="#159d97" stroke="#7fd3cc" stroke-width="0.7"/>
<rect x="407.94" y="345.40" width="6.32" height="118.35" fill="#159d97" stroke="#7fd3cc" stroke-width="0.7"/>
<rect x="414.26" y="352.06" width="6.32" height="111.69" fill="#159d97" stroke="#7fd3cc" stroke-width="0.7"/>
<rect x="420.58" y="391.95" width="6.32" height="71.80" fill="#159d97" stroke="#7fd3cc" stroke-width="0.7"/>
<rect x="426.90" y="398.19" width="6.32" height="65.56" fill="#159d97" stroke="#7fd3cc" stroke-width="0.7"/>
<rect x="433.22" y="404.99" width="6.32" height="58.76" fill="#159d97" stroke="#7fd3cc" stroke-width="0.7"/>
<rect x="439.53" y="444.32" width="6.32" height="19.43" fill="#159d97" stroke="#7fd3cc" stroke-width="0.7"/>
<rect x="445.85" y="457.78" width="6.32" height="5.97" fill="#159d97" stroke="#7fd3cc" stroke-width="0.7"/>
<rect x="452.17" y="457.78" width="6.32" height="5.97" fill="#159d97" stroke="#7fd3cc" stroke-width="0.7"/>
<polyline points="340.33,463.75 340.84,463.75 341.34,463.75 341.85,463.75 342.35,463.75 342.86,463.75 343.36,463.75 343.87,463.75 344.37,463.74 344.88,463.74 345.38,463.74 345.89,463.74 346.40,463.74 346.90,463.74 347.41,463.74 347.91,463.74 348.42,463.73 348.92,463.73 349.43,463.73 349.93,463.72 350.44,463.72 350.95,463.72 351.45,463.71 351.96,463.71 352.46,463.70 352.97,463.70 353.47,463.69 353.98,463.68 354.48,463.67 354.99,463.66 355.50,463.65 356.00,463.64 356.51,463.62 357.01,463.61 357.52,463.59 358.02,463.57 358.53,463.55 359.03,463.52 359.54,463.50 360.04,463.47 360.55,463.43 361.06,463.40 361.56,463.36 362.07,463.31 362.57,463.26 363.08,463.21 363.58,463.15 364.09,463.09 364.59,463.02 365.10,462.94 365.61,462.85 366.11,462.76 366.62,462.66 367.12,462.55 367.63,462.43 368.13,462.30 368.64,462.15 369.14,462.00 369.65,461.83 370.15,461.65 370.66,461.46 371.17,461.24 371.67,461.02 372.18,460.77 372.68,460.50 373.19,460.22 373.69,459.91 374.20,459.59 374.70,459.23 375.21,458.86 375.72,458.46 376.22,458.03 376.73,457.57 377.23,457.08 377.74,456.56 378.24,456.01 378.75,455.43 379.25,454.81 379.76,454.15 380.26,453.46 380.77,452.72 381.28,451.95 381.78,451.14 382.29,450.28 382.79,449.39 383.30,448.44 383.80,447.45 384.31,446.42 384.81,445.34 385.32,444.21 385.83,443.03 386.33,441.81 386.84,440.54 387.34,439.21 387.85,437.84 388.35,436.43 388.86,434.96 389.36,433.44 389.87,431.88 390.37,430.28 390.88,428.62 391.39,426.93 391.89,425.19 392.40,423.41 392.90,421.59 393.41,419.74 393.91,417.85 394.42,415.93 394.92,413.98 395.43,412.00 395.94,410.01 396.44,407.99 396.95,405.95 397.45,403.90 397.96,401.85 398.46,399.78 398.97,397.72 399.47,395.66 399.98,393.61 400.48,391.57 400.99,389.55 401.50,387.55 402.00,385.57 402.51,383.63 403.01,381.72 403.52,379.85 404.02,378.03 404.53,376.26 405.03,374.55 405.54,372.89 406.05,371.30 406.55,369.78 407.06,368.33 407.56,366.96 408.07,365.67 408.57,364.46 409.08,363.34 409.58,362.32 410.09,361.38 410.59,360.55 411.10,359.82 411.61,359.18 412.11,358.66 412.62,358.23 413.12,357.92 413.63,357.71 414.13,357.61 414.64,357.63 415.14,357.75 415.65,357.97 416.16,358.31 416.66,358.75 417.17,359.30 417.67,359.95 418.18,360.71 418.68,361.56 419.19,362.51 419.69,363.56 420.20,364.69 420.70,365.92 421.21,367.23 421.72,368.61 422.22,370.08 422.73,371.61 423.23,373.22 423.74,374.89 424.24,376.61 424.75,378.39 425.25,380.22 425.76,382.10 426.26,384.01 426.77,385.96 427.28,387.94 427.78,389.95 428.29,391.98 428.79,394.02 429.30,396.07 429.80,398.13 430.31,400.20 430.81,402.26 431.32,404.31 431.83,406.36 432.33,408.39 432.84,410.41 433.34,412.40 433.85,414.37 434.35,416.32 434.86,418.23 435.36,420.11 435.87,421.96 436.38,423.77 436.88,425.54 437.39,427.27 437.89,428.96 438.40,430.60 438.90,432.20 439.41,433.75 439.91,435.26 440.42,436.71 440.92,438.12 441.43,439.48 441.94,440.79 442.44,442.06 442.95,443.27 443.45,444.44 443.96,445.56 444.46,446.63 444.97,447.65 445.47,448.63 445.98,449.57 446.49,450.46 446.99,451.31 447.50,452.11 448.00,452.87 448.51,453.60 449.01,454.28 449.52,454.93 450.02,455.55 450.53,456.12 451.03,456.67 451.54,457.18 452.05,457.66 452.55,458.11 453.06,458.54 453.56,458.93 454.07,459.31 454.57,459.65 455.08,459.98 455.58,460.28 456.09,460.56 456.60,460.82 457.10,461.06 457.61,461.29 458.11,461.50 458.62,461.69 459.12,461.87 459.63,462.03 460.13,462.18 460.64,462.32 461.14,462.45 461.65,462.57 462.16,462.68 462.66,462.78 463.17,462.87 463.67,462.95 464.18,463.03 464.68,463.10 465.19,463.16 465.69,463.22 466.20,463.27 466.71,463.32 467.21,463.37 467.72,463.40 468.22,463.44 468.73,463.47 469.23,463.50 469.74,463.53 470.24,463.55 470.75,463.57 471.25,463.59 471.76,463.61 472.27,463.63 472.77,463.64 473.28,463.65 473.78,463.66 474.29,463.67 474.79,463.68 475.30,463.69 475.80,463.70 476.31,463.70 476.82,463.71 477.32,463.71 477.83,463.72 478.33,463.72 478.84,463.73 479.34,463.73 479.85,463.73 480.35,463.73 480.86,463.74 481.36,463.74 481.87,463.74 482.38,463.74 482.88,463.74 483.39,463.74 483.89,463.74 484.40,463.74 484.90,463.75 485.41,463.75 485.91,463.75 486.42,463.75 486.93,463.75 487.43,463.75 487.94,463.75 488.44,463.75 488.95,463.75 489.45,463.75 489.96,463.75 490.46,463.75 490.97,463.75 491.47,463.75 491.98,463.75" fill="none" stroke="#c8404e" stroke-width="1.4"/>
<path d="M310 463.75 V325 H512.2 V463.75 Z" fill="none" stroke="#3a3a3a" stroke-width="1.6" stroke-linejoin="round"/>
<line x1="302.8" y1="463.75" x2="310" y2="463.75" stroke="#3a3a3a" stroke-width="1.3"/>
<text x="300.20" y="466.95" class="tk" text-anchor="end">0.00</text>
<line x1="302.8" y1="429.06" x2="310" y2="429.06" stroke="#3a3a3a" stroke-width="1.3"/>
<text x="300.20" y="432.26" class="tk" text-anchor="end">0.05</text>
<line x1="302.8" y1="394.38" x2="310" y2="394.38" stroke="#3a3a3a" stroke-width="1.3"/>
<text x="300.20" y="397.57" class="tk" text-anchor="end">0.10</text>
<line x1="302.8" y1="359.69" x2="310" y2="359.69" stroke="#3a3a3a" stroke-width="1.3"/>
<text x="300.20" y="362.89" class="tk" text-anchor="end">0.15</text>
<line x1="302.8" y1="325.00" x2="310" y2="325.00" stroke="#3a3a3a" stroke-width="1.3"/>
<text x="300.20" y="328.20" class="tk" text-anchor="end">0.20</text>
<line x1="310.00" y1="463.75" x2="310.00" y2="470.25" stroke="#3a3a3a" stroke-width="1.3"/>
<text x="310.00" y="481.25" class="tk" text-anchor="middle">0.0</text>
<line x1="350.44" y1="463.75" x2="350.44" y2="470.25" stroke="#3a3a3a" stroke-width="1.3"/>
<text x="350.44" y="481.25" class="tk" text-anchor="middle">0.2</text>
<line x1="390.88" y1="463.75" x2="390.88" y2="470.25" stroke="#3a3a3a" stroke-width="1.3"/>
<text x="390.88" y="481.25" class="tk" text-anchor="middle">0.4</text>
<line x1="431.32" y1="463.75" x2="431.32" y2="470.25" stroke="#3a3a3a" stroke-width="1.3"/>
<text x="431.32" y="481.25" class="tk" text-anchor="middle">0.6</text>
<line x1="471.76" y1="463.75" x2="471.76" y2="470.25" stroke="#3a3a3a" stroke-width="1.3"/>
<text x="471.76" y="481.25" class="tk" text-anchor="middle">0.8</text>
<line x1="512.20" y1="463.75" x2="512.20" y2="470.25" stroke="#3a3a3a" stroke-width="1.3"/>
<text x="512.20" y="481.25" class="tk" text-anchor="middle">1.0</text>
<line x1="319.5" y1="338.3" x2="332.5" y2="338.3" stroke="#c8404e" stroke-width="1.4"/>
<text x="336.3" y="342" class="sm">Gaussian fit</text>
<text x="412.5" y="493.8" class="sm" text-anchor="middle">Inter-Hamming-distance</text>
<text transform="translate(276.6,394.7) rotate(-90)" class="sm" text-anchor="middle">Probability mass function</text>
</svg>
</body></html>
